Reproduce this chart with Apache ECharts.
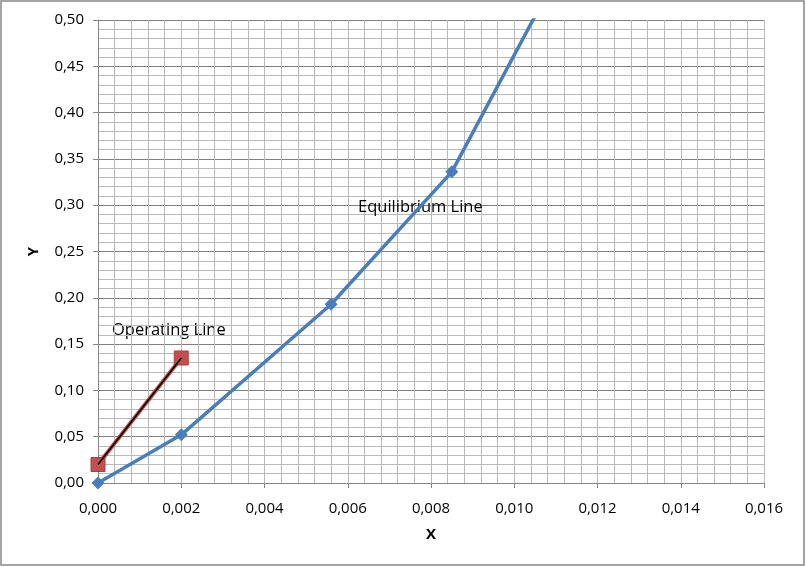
<!DOCTYPE html>
<html>
<head>
<meta charset="utf-8">
<script src="https://cdn.jsdelivr.net/npm/echarts@6/dist/echarts.min.js"></script>
<style>
html,body{margin:0;padding:0;background:#fff;}
#chart{width:806px;height:567px;}
</style>
</head>
<body>
<div id="chart"></div>
<script>
// 平衡线 (Equilibrium Line)
var eqX = [0, 0.002, 0.0056, 0.0085, 0.0114];
var eqY = [0, 0.052, 0.193, 0.336, 0.58];
// 操作线 (Operating Line)
var opX = [0, 0.002];
var opY = [0.02, 0.135];

var xTicks = [0, 0.002, 0.004, 0.006, 0.008, 0.010, 0.012, 0.014, 0.016];
var yTicks = [0, 0.05, 0.10, 0.15, 0.20, 0.25, 0.30, 0.35, 0.40, 0.45, 0.50];

let pairs = (xs, ys) => xs.map((x, i) => [x, ys[i]]);
let comma = (v, n) => v.toFixed(n).replace('.', ',');

(function() {
	var myChart = echarts.init(document.getElementById('chart'));
	var font = 'Open Sans';
	let option = {
		animation: false,
		grid: {
			left: 98,
			top: 20,
			right: 42,
			bottom: 84
		},
		xAxis: {
			type: 'value',
			min: xTicks[0],
			max: xTicks[xTicks.length - 1],
			interval: 0.002,
			name: 'X',
			nameLocation: 'middle',
			nameGap: 44,
			nameTextStyle: {color: '#000', fontFamily: font, fontWeight: 'bold', fontSize: 15},
			axisLine: {lineStyle: {color: '#868686', width: 1}},
			axisTick: {show: true, length: 5, lineStyle: {color: '#868686'}},
			axisLabel: {
				color: '#000', fontFamily: font, fontSize: 15, margin: 18,
				formatter: function(v) { return comma(v, 3); }
			},
			splitLine: {show: true, lineStyle: {color: '#b9b9b9', width: 1}},
			minorTick: {show: false, splitNumber: 5},
			minorSplitLine: {show: true, lineStyle: {color: '#b9b9b9', width: 1}}
		},
		yAxis: {
			type: 'value',
			min: yTicks[0],
			max: yTicks[yTicks.length - 1],
			interval: 0.05,
			name: 'Y',
			nameLocation: 'middle',
			nameGap: 57,
			nameTextStyle: {color: '#000', fontFamily: font, fontWeight: 'bold', fontSize: 15},
			axisLine: {show: true, lineStyle: {color: '#868686', width: 1}},
			axisTick: {show: true, length: 5, lineStyle: {color: '#868686'}},
			axisLabel: {
				color: '#000', fontFamily: font, fontSize: 15, margin: 14,
				formatter: function(v) { return comma(v, 2); }
			},
			splitLine: {show: true, lineStyle: {color: '#808080', width: 1}},
			minorTick: {show: false, splitNumber: 5},
			minorSplitLine: {show: true, lineStyle: {color: '#b9b9b9', width: 1}}
		},
		series: [{
				name: 'Equilibrium Line',
				type: 'line',
				data: pairs(eqX, eqY),
				clip: true,
				symbol: 'diamond',
				symbolSize: 13,
				lineStyle: {color: '#4a7ebb', width: 3.5},
				itemStyle: {color: '#4a7ebb'},
				z: 3
			},
			{
				name: 'Operating Line',
				type: 'line',
				data: pairs(opX, opY),
				symbol: 'rect',
				symbolSize: 14,
				lineStyle: {color: '#be4b48', width: 4},
				itemStyle: {color: '#c0504d', borderColor: '#a8403d', borderWidth: 1},
				z: 4
			},
			{
				name: 'Operating Line (core)',
				type: 'line',
				data: pairs(opX, opY),
				symbol: 'none',
				lineStyle: {color: '#000', width: 1.5},
				z: 5
			}
		],
		graphic: [{
				type: 'rect',
				shape: {x: 1, y: 1, width: 803, height: 564},
				style: {fill: 'none', stroke: '#868686', lineWidth: 1.5},
				silent: true
			},
			{
				type: 'text',
				left: 112, top: 322,
				style: {text: 'Operating Line', font: '16.5px "Open Sans"', fill: '#000'}
			},
			{
				type: 'text',
				left: 358, top: 199, z: 1,
				style: {text: 'Equilibrium Line', font: '16.5px "Open Sans"', fill: '#000'}
			}
		]
	};
	myChart.setOption(option);
})();
</script>
</body>
</html>
